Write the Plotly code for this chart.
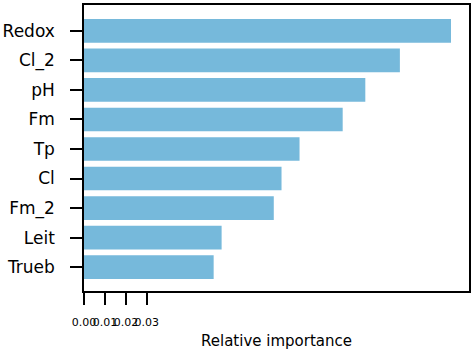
import plotly.graph_objects as go

features = ["Redox", "Cl_2", "pH", "Fm", "Tp", "Cl", "Fm_2", "Leit", "Trueb"]
importance = [0.1752, 0.1508, 0.1343, 0.1235, 0.1029, 0.0943, 0.0906, 0.0657, 0.0619]
x_ticks = [0.00, 0.01, 0.02, 0.03]
x_tick_labels = ["0.00", "0.01", "0.02", "0.03"]

fig = go.Figure(
    go.Bar(
        x=importance,
        y=features,
        orientation="h",
        width=0.8,
        marker=dict(color="#76B9DB", line=dict(width=0)),
    )
)

fig.update_layout(
    width=474,
    height=353,
    margin=dict(l=84, r=4, t=3, b=62),
    plot_bgcolor="white",
    paper_bgcolor="white",
    font=dict(family="DejaVu Sans", color="black"),
    showlegend=False,
)

fig.update_xaxes(
    range=[0, 0.1838],
    tickvals=x_ticks,
    ticktext=x_tick_labels,
    tickangle=0,
    tickfont=dict(size=11),
    ticks="outside",
    ticklen=12,
    tickwidth=1.5,
    tickcolor="black",
    showline=True,
    linecolor="black",
    linewidth=1.5,
    mirror=True,
    showgrid=False,
    zeroline=False,
    ticklabelstandoff=8,
    title=dict(text="Relative importance", font=dict(size=15), standoff=8),
)

fig.update_yaxes(
    type="category",
    categoryorder="array",
    categoryarray=features[::-1],
    range=[-0.807, 8.874],
    tickfont=dict(size=17),
    ticks="outside",
    ticklen=12,
    tickwidth=1.5,
    tickcolor="black",
    showline=True,
    linecolor="black",
    linewidth=1.5,
    mirror=True,
    showgrid=False,
    zeroline=False,
    ticklabelstandoff=12,
)

fig.write_html("out.html")
